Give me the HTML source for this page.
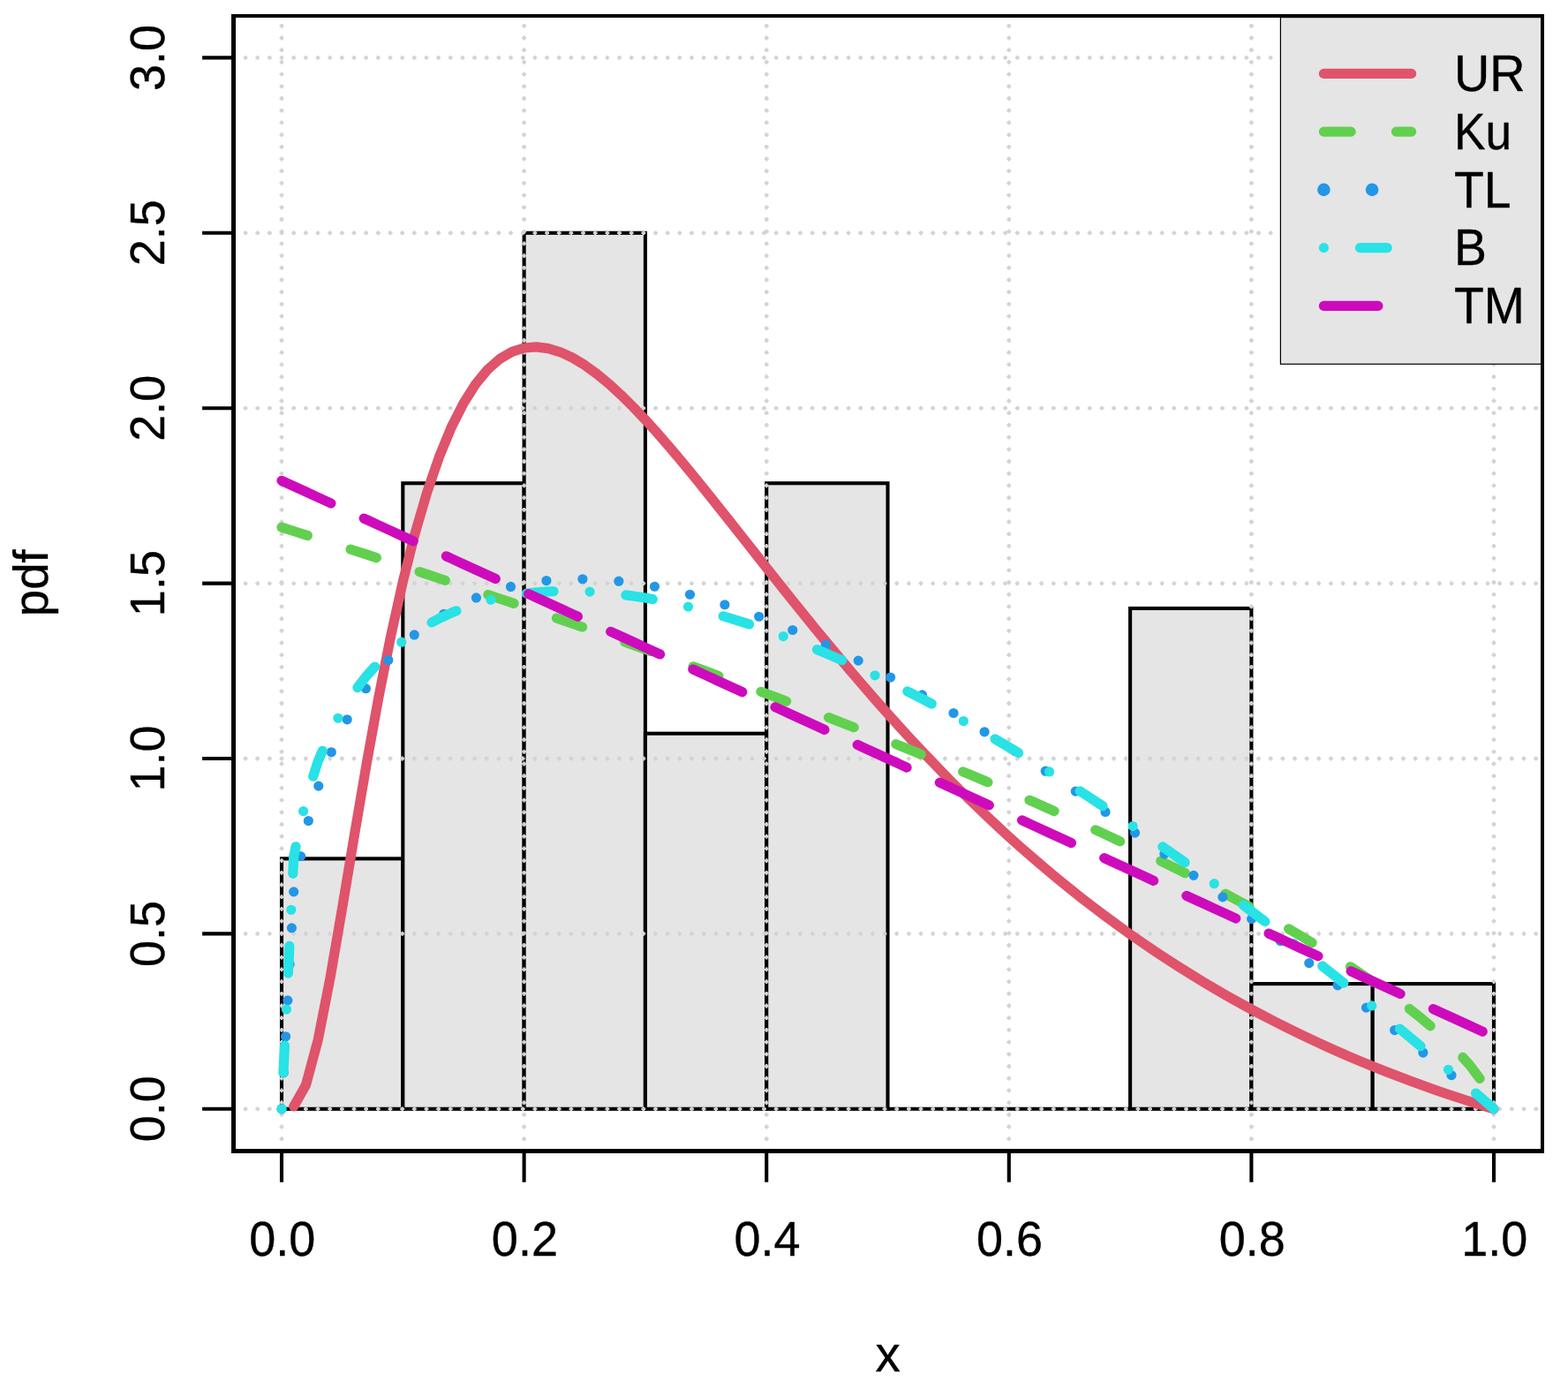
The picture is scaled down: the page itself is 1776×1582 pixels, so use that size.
<!DOCTYPE html>
<html lang="en">
<head>
<meta charset="utf-8">
<title>pdf fits</title>
<style>
html,body{margin:0;padding:0;background:#fff;}
body{width:1776px;height:1582px;overflow:hidden;}
svg{display:block;}
</style>
</head>
<body>
<svg width="1776" height="1582" viewBox="0 0 1776 1582">
<rect width="1776" height="1582" fill="#fff"/>
<g fill="#E5E5E5" stroke="#000" stroke-width="4.1" stroke-linejoin="miter">
<rect x="319" y="972.37" width="137.3" height="283.43"/>
<rect x="456.3" y="547.23" width="137.3" height="708.57"/>
<rect x="593.6" y="263.8" width="137.3" height="992"/>
<rect x="730.9" y="830.66" width="137.3" height="425.14"/>
<rect x="868.2" y="547.23" width="137.3" height="708.57"/>
<line x1="1005.5" y1="1255.8" x2="1142.8" y2="1255.8"/>
<line x1="1142.8" y1="1255.8" x2="1280.1" y2="1255.8"/>
<rect x="1280.1" y="688.94" width="137.3" height="566.86"/>
<rect x="1417.4" y="1114.09" width="137.3" height="141.71"/>
<rect x="1554.7" y="1114.09" width="137.3" height="141.71"/>
</g>
<g fill="none" stroke="#D3D3D3" stroke-linecap="butt">
<line x1="319" y1="1303.4" x2="319" y2="18" stroke-width="4.8" stroke-dasharray="2.4 11.3" stroke-dashoffset="1.2"/>
<line x1="319" y1="1303.4" x2="319" y2="18" stroke-width="2.4" stroke-dasharray="4.8 8.9" stroke-dashoffset="2.4"/>
<line x1="593.6" y1="1303.4" x2="593.6" y2="18" stroke-width="4.8" stroke-dasharray="2.4 11.3" stroke-dashoffset="1.2"/>
<line x1="593.6" y1="1303.4" x2="593.6" y2="18" stroke-width="2.4" stroke-dasharray="4.8 8.9" stroke-dashoffset="2.4"/>
<line x1="868.2" y1="1303.4" x2="868.2" y2="18" stroke-width="4.8" stroke-dasharray="2.4 11.3" stroke-dashoffset="1.2"/>
<line x1="868.2" y1="1303.4" x2="868.2" y2="18" stroke-width="2.4" stroke-dasharray="4.8 8.9" stroke-dashoffset="2.4"/>
<line x1="1142.8" y1="1303.4" x2="1142.8" y2="18" stroke-width="4.8" stroke-dasharray="2.4 11.3" stroke-dashoffset="1.2"/>
<line x1="1142.8" y1="1303.4" x2="1142.8" y2="18" stroke-width="2.4" stroke-dasharray="4.8 8.9" stroke-dashoffset="2.4"/>
<line x1="1417.4" y1="1303.4" x2="1417.4" y2="18" stroke-width="4.8" stroke-dasharray="2.4 11.3" stroke-dashoffset="1.2"/>
<line x1="1417.4" y1="1303.4" x2="1417.4" y2="18" stroke-width="2.4" stroke-dasharray="4.8 8.9" stroke-dashoffset="2.4"/>
<line x1="1692" y1="1303.4" x2="1692" y2="18" stroke-width="4.8" stroke-dasharray="2.4 11.3" stroke-dashoffset="1.2"/>
<line x1="1692" y1="1303.4" x2="1692" y2="18" stroke-width="2.4" stroke-dasharray="4.8 8.9" stroke-dashoffset="2.4"/>
<line x1="264.4" y1="1255.8" x2="1747" y2="1255.8" stroke-width="4.8" stroke-dasharray="2.4 11.26" stroke-dashoffset="1.2"/>
<line x1="264.4" y1="1255.8" x2="1747" y2="1255.8" stroke-width="2.4" stroke-dasharray="4.8 8.86" stroke-dashoffset="2.4"/>
<line x1="264.4" y1="1057.4" x2="1747" y2="1057.4" stroke-width="4.8" stroke-dasharray="2.4 11.26" stroke-dashoffset="1.2"/>
<line x1="264.4" y1="1057.4" x2="1747" y2="1057.4" stroke-width="2.4" stroke-dasharray="4.8 8.86" stroke-dashoffset="2.4"/>
<line x1="264.4" y1="859" x2="1747" y2="859" stroke-width="4.8" stroke-dasharray="2.4 11.26" stroke-dashoffset="1.2"/>
<line x1="264.4" y1="859" x2="1747" y2="859" stroke-width="2.4" stroke-dasharray="4.8 8.86" stroke-dashoffset="2.4"/>
<line x1="264.4" y1="660.6" x2="1747" y2="660.6" stroke-width="4.8" stroke-dasharray="2.4 11.26" stroke-dashoffset="1.2"/>
<line x1="264.4" y1="660.6" x2="1747" y2="660.6" stroke-width="2.4" stroke-dasharray="4.8 8.86" stroke-dashoffset="2.4"/>
<line x1="264.4" y1="462.2" x2="1747" y2="462.2" stroke-width="4.8" stroke-dasharray="2.4 11.26" stroke-dashoffset="1.2"/>
<line x1="264.4" y1="462.2" x2="1747" y2="462.2" stroke-width="2.4" stroke-dasharray="4.8 8.86" stroke-dashoffset="2.4"/>
<line x1="264.4" y1="263.8" x2="1747" y2="263.8" stroke-width="4.8" stroke-dasharray="2.4 11.26" stroke-dashoffset="1.2"/>
<line x1="264.4" y1="263.8" x2="1747" y2="263.8" stroke-width="2.4" stroke-dasharray="4.8 8.86" stroke-dashoffset="2.4"/>
<line x1="264.4" y1="65.4" x2="1747" y2="65.4" stroke-width="4.8" stroke-dasharray="2.4 11.26" stroke-dashoffset="1.2"/>
<line x1="264.4" y1="65.4" x2="1747" y2="65.4" stroke-width="2.4" stroke-dasharray="4.8 8.86" stroke-dashoffset="2.4"/>
</g>
<g fill="none" stroke-width="11.2" stroke-linecap="round" stroke-linejoin="round">
<polyline stroke="#DF536B" points="332.73,1252.89 346.46,1228.67 360.19,1177.64 373.92,1107.77 387.65,1028.17 401.38,945.82 415.11,865.38 428.84,789.75 442.57,720.59 456.3,658.67 470.03,604.25 483.76,557.22 497.49,517.24 511.22,483.89 524.95,456.65 538.68,434.99 552.41,418.39 566.14,406.34 579.87,398.36 593.6,394.01 607.33,392.88 621.06,394.58 634.79,398.77 648.52,405.15 662.25,413.42 675.98,423.35 689.71,434.7 703.44,447.26 717.17,460.86 730.9,475.33 744.63,490.54 758.36,506.34 772.09,522.62 785.82,539.29 799.55,556.25 813.28,573.42 827.01,590.73 840.74,608.12 854.47,625.53 868.2,642.92 881.93,660.24 895.66,677.45 909.39,694.52 923.12,711.43 936.85,728.15 950.58,744.66 964.31,760.94 978.04,776.97 991.77,792.75 1005.5,808.26 1019.23,823.5 1032.96,838.45 1046.69,853.11 1060.42,867.49 1074.15,881.57 1087.88,895.35 1101.61,908.83 1115.34,922.02 1129.07,934.92 1142.8,947.51 1156.53,959.82 1170.26,971.83 1183.99,983.56 1197.72,995.01 1211.45,1006.17 1225.18,1017.06 1238.91,1027.67 1252.64,1038.02 1266.37,1048.1 1280.1,1057.93 1293.83,1067.5 1307.56,1076.82 1321.29,1085.9 1335.02,1094.74 1348.75,1103.34 1362.48,1111.71 1376.21,1119.86 1389.94,1127.79 1403.67,1135.5 1417.4,1143.01 1431.13,1150.3 1444.86,1157.4 1458.59,1164.3 1472.32,1171.01 1486.05,1177.53 1499.78,1183.87 1513.51,1190.03 1527.24,1196.02 1540.97,1201.84 1554.7,1207.49 1568.43,1212.98 1582.16,1218.32 1595.89,1223.5 1609.62,1228.53 1623.35,1233.42 1637.08,1238.17 1650.81,1242.77 1664.54,1247.25 1678.27,1251.59 1692,1255.8"/>
<polyline stroke="#61D04F" stroke-dasharray="30.75 51.25" points="319,597.11 332.73,601.47 346.46,605.84 360.19,610.22 373.92,614.62 387.65,619.04 401.38,623.47 415.11,627.92 428.84,632.38 442.57,636.86 456.3,641.36 470.03,645.87 483.76,650.41 497.49,654.95 511.22,659.52 524.95,664.11 538.68,668.71 552.41,673.33 566.14,677.97 579.87,682.63 593.6,687.31 607.33,692.01 621.06,696.74 634.79,701.48 648.52,706.24 662.25,711.02 675.98,715.83 689.71,720.65 703.44,725.5 717.17,730.38 730.9,735.27 744.63,740.19 758.36,745.14 772.09,750.1 785.82,755.1 799.55,760.12 813.28,765.16 827.01,770.24 840.74,775.34 854.47,780.47 868.2,785.62 881.93,790.81 895.66,796.03 909.39,801.28 923.12,806.55 936.85,811.87 950.58,817.21 964.31,822.59 978.04,828 991.77,833.45 1005.5,838.93 1019.23,844.45 1032.96,850.01 1046.69,855.61 1060.42,861.25 1074.15,866.93 1087.88,872.66 1101.61,878.43 1115.34,884.24 1129.07,890.11 1142.8,896.02 1156.53,901.98 1170.26,907.99 1183.99,914.06 1197.72,920.19 1211.45,926.37 1225.18,932.61 1238.91,938.92 1252.64,945.29 1266.37,951.73 1280.1,958.24 1293.83,964.82 1307.56,971.48 1321.29,978.23 1335.02,985.05 1348.75,991.97 1362.48,998.99 1376.21,1006.1 1389.94,1013.32 1403.67,1020.65 1417.4,1028.1 1431.13,1035.68 1444.86,1043.4 1458.59,1051.26 1472.32,1059.28 1486.05,1067.48 1499.78,1075.86 1513.51,1084.45 1527.24,1093.27 1540.97,1102.34 1554.7,1111.69 1568.43,1121.38 1582.16,1131.43 1595.89,1141.92 1609.62,1152.94 1623.35,1164.6 1637.08,1177.09 1650.81,1190.7 1664.54,1205.99 1678.27,1224.27 1692,1255.8"/>
<polyline stroke="#2297E6" stroke-dasharray="0 41.049" points="319,1255.8 332.73,1009.51 346.46,939.57 360.19,891.65 373.92,854.77 387.65,824.86 401.38,799.86 415.11,778.58 428.84,760.24 442.57,744.32 456.3,730.43 470.03,718.29 483.76,707.65 497.49,698.36 511.22,690.26 524.95,683.24 538.68,677.19 552.41,672.03 566.14,667.68 579.87,664.09 593.6,661.2 607.33,658.96 621.06,657.33 634.79,656.27 648.52,655.75 662.25,655.73 675.98,656.19 689.71,657.1 703.44,658.44 717.17,660.18 730.9,662.31 744.63,664.82 758.36,667.67 772.09,670.86 785.82,674.37 799.55,678.2 813.28,682.31 827.01,686.71 840.74,691.39 854.47,696.32 868.2,701.51 881.93,706.94 895.66,712.6 909.39,718.49 923.12,724.59 936.85,730.9 950.58,737.42 964.31,744.13 978.04,751.02 991.77,758.1 1005.5,765.35 1019.23,772.77 1032.96,780.35 1046.69,788.1 1060.42,795.99 1074.15,804.03 1087.88,812.21 1101.61,820.53 1115.34,828.98 1129.07,837.56 1142.8,846.27 1156.53,855.09 1170.26,864.03 1183.99,873.08 1197.72,882.23 1211.45,891.49 1225.18,900.85 1238.91,910.31 1252.64,919.86 1266.37,929.49 1280.1,939.22 1293.83,949.02 1307.56,958.9 1321.29,968.86 1335.02,978.89 1348.75,988.99 1362.48,999.16 1376.21,1009.39 1389.94,1019.68 1403.67,1030.03 1417.4,1040.43 1431.13,1050.89 1444.86,1061.39 1458.59,1071.94 1472.32,1082.53 1486.05,1093.17 1499.78,1103.84 1513.51,1114.55 1527.24,1125.29 1540.97,1136.06 1554.7,1146.86 1568.43,1157.68 1582.16,1168.53 1595.89,1179.39 1609.62,1190.27 1623.35,1201.17 1637.08,1212.08 1650.81,1223 1664.54,1233.93 1678.27,1244.86 1692,1255.8"/>
<polyline stroke="#28E2E5" stroke-dasharray="0 41.049 30.787 41.049" points="319,1255.8 332.73,969.67 346.46,904.9 360.19,862.13 373.92,829.96 387.65,804.32 401.38,783.18 415.11,765.4 428.84,750.23 442.57,737.19 456.3,725.92 470.03,716.15 483.76,707.67 497.49,700.33 511.22,693.99 524.95,688.56 538.68,683.94 552.41,680.07 566.14,676.87 579.87,674.29 593.6,672.3 607.33,670.84 621.06,669.88 634.79,669.39 648.52,669.35 662.25,669.72 675.98,670.48 689.71,671.62 703.44,673.11 717.17,674.94 730.9,677.09 744.63,679.54 758.36,682.3 772.09,685.33 785.82,688.64 799.55,692.21 813.28,696.03 827.01,700.09 840.74,704.38 854.47,708.9 868.2,713.65 881.93,718.6 895.66,723.76 909.39,729.11 923.12,734.67 936.85,740.4 950.58,746.33 964.31,752.43 978.04,758.7 991.77,765.15 1005.5,771.75 1019.23,778.52 1032.96,785.45 1046.69,792.53 1060.42,799.76 1074.15,807.14 1087.88,814.66 1101.61,822.32 1115.34,830.12 1129.07,838.05 1142.8,846.12 1156.53,854.32 1170.26,862.64 1183.99,871.09 1197.72,879.66 1211.45,888.35 1225.18,897.16 1238.91,906.09 1252.64,915.13 1266.37,924.29 1280.1,933.55 1293.83,942.92 1307.56,952.4 1321.29,961.99 1335.02,971.68 1348.75,981.47 1362.48,991.37 1376.21,1001.36 1389.94,1011.45 1403.67,1021.64 1417.4,1031.92 1431.13,1042.29 1444.86,1052.76 1458.59,1063.32 1472.32,1073.97 1486.05,1084.71 1499.78,1095.54 1513.51,1106.46 1527.24,1117.46 1540.97,1128.54 1554.7,1139.71 1568.43,1150.96 1582.16,1162.29 1595.89,1173.71 1609.62,1185.2 1623.35,1196.78 1637.08,1208.43 1650.81,1220.16 1664.54,1231.96 1678.27,1243.84 1692,1255.8"/>
<polyline stroke="#CD0BBC" stroke-dasharray="61.5 41" points="319,544.34 332.73,550.63 346.46,556.93 360.19,563.23 373.92,569.53 387.65,575.82 401.38,582.12 415.11,588.42 428.84,594.72 442.57,601.01 456.3,607.31 470.03,613.61 483.76,619.9 497.49,626.2 511.22,632.5 524.95,638.8 538.68,645.09 552.41,651.39 566.14,657.69 579.87,663.98 593.6,670.28 607.33,676.58 621.06,682.88 634.79,689.17 648.52,695.47 662.25,701.77 675.98,708.07 689.71,714.36 703.44,720.66 717.17,726.96 730.9,733.25 744.63,739.55 758.36,745.85 772.09,752.15 785.82,758.44 799.55,764.74 813.28,771.04 827.01,777.33 840.74,783.63 854.47,789.93 868.2,796.23 881.93,802.52 895.66,808.82 909.39,815.12 923.12,821.42 936.85,827.71 950.58,834.01 964.31,840.31 978.04,846.6 991.77,852.9 1005.5,859.2 1019.23,865.5 1032.96,871.79 1046.69,878.09 1060.42,884.39 1074.15,890.68 1087.88,896.98 1101.61,903.28 1115.34,909.58 1129.07,915.87 1142.8,922.17 1156.53,928.47 1170.26,934.76 1183.99,941.06 1197.72,947.36 1211.45,953.66 1225.18,959.95 1238.91,966.25 1252.64,972.55 1266.37,978.85 1280.1,985.14 1293.83,991.44 1307.56,997.74 1321.29,1004.03 1335.02,1010.33 1348.75,1016.63 1362.48,1022.93 1376.21,1029.22 1389.94,1035.52 1403.67,1041.82 1417.4,1048.11 1431.13,1054.41 1444.86,1060.71 1458.59,1067.01 1472.32,1073.3 1486.05,1079.6 1499.78,1085.9 1513.51,1092.2 1527.24,1098.49 1540.97,1104.79 1554.7,1111.09 1568.43,1117.38 1582.16,1123.68 1595.89,1129.98 1609.62,1136.28 1623.35,1142.57 1637.08,1148.87 1650.81,1155.17 1664.54,1161.46 1678.27,1167.76 1692,1174.06"/>
</g>
<rect x="1450.4" y="19.6" width="296.1" height="392.7" fill="#E5E5E5" stroke="#000" stroke-width="1.2"/>
<g fill="none" stroke-width="11.2" stroke-linecap="round">
<line x1="1499.4" x2="1598.6" y1="83.4" y2="83.4" stroke="#DF536B"/>
<line x1="1499.4" x2="1598.6" y1="149.15" y2="149.15" stroke="#61D04F" stroke-dasharray="30.75 51.25"/>
<line x1="1499.4" x2="1598.6" y1="214.9" y2="214.9" stroke="#2297E6" stroke-width="14.6" stroke-dasharray="0 54.7"/>
<line x1="1499.4" x2="1598.6" y1="280.65" y2="280.65" stroke="#28E2E5" stroke-dasharray="0 41.049 30.787 41.049"/>
<line x1="1499.4" x2="1598.6" y1="346.4" y2="346.4" stroke="#CD0BBC" stroke-dasharray="61.5 41"/>
</g>
<g fill="none" stroke="#000" stroke-linecap="butt">
<g fill="#000" stroke="none"><rect x="262" y="16" width="1487" height="4"/><rect x="262" y="1301" width="1487" height="5"/><rect x="262" y="16" width="5" height="1290"/><rect x="1745" y="16" width="4" height="1290"/></g>
<line x1="319" x2="319" y1="1303.4" y2="1338.7" stroke-width="4.1"/>
<line x1="593.6" x2="593.6" y1="1303.4" y2="1338.7" stroke-width="4.1"/>
<line x1="868.2" x2="868.2" y1="1303.4" y2="1338.7" stroke-width="4.1"/>
<line x1="1142.8" x2="1142.8" y1="1303.4" y2="1338.7" stroke-width="4.1"/>
<line x1="1417.4" x2="1417.4" y1="1303.4" y2="1338.7" stroke-width="4.1"/>
<line x1="1692" x2="1692" y1="1303.4" y2="1338.7" stroke-width="4.1"/>
<line x1="264.4" x2="229.1" y1="1255.8" y2="1255.8" stroke-width="4.1"/>
<line x1="264.4" x2="229.1" y1="1057.4" y2="1057.4" stroke-width="4.1"/>
<line x1="264.4" x2="229.1" y1="859" y2="859" stroke-width="4.1"/>
<line x1="264.4" x2="229.1" y1="660.6" y2="660.6" stroke-width="4.1"/>
<line x1="264.4" x2="229.1" y1="462.2" y2="462.2" stroke-width="4.1"/>
<line x1="264.4" x2="229.1" y1="263.8" y2="263.8" stroke-width="4.1"/>
<line x1="264.4" x2="229.1" y1="65.4" y2="65.4" stroke-width="4.1"/>
</g>
<g font-family="'Liberation Sans', Arial, Helvetica, sans-serif" fill="#000" stroke="#000" stroke-width="0.35" stroke-linejoin="round">
<text transform="translate(319.8 1421.6) scale(0.9854 1)" font-size="54.8px" text-anchor="middle">0.0</text>
<text transform="translate(594.4 1421.6) scale(0.9854 1)" font-size="54.8px" text-anchor="middle">0.2</text>
<text transform="translate(869 1421.6) scale(0.9854 1)" font-size="54.8px" text-anchor="middle">0.4</text>
<text transform="translate(1143.6 1421.6) scale(0.9854 1)" font-size="54.8px" text-anchor="middle">0.6</text>
<text transform="translate(1418.2 1421.6) scale(0.9854 1)" font-size="54.8px" text-anchor="middle">0.8</text>
<text transform="translate(1692.8 1421.6) scale(0.9854 1)" font-size="54.8px" text-anchor="middle">1.0</text>
<text transform="translate(185.8 1255.8) rotate(-90) scale(0.9818 1)" font-size="55px" text-anchor="middle">0.0</text>
<text transform="translate(185.8 1057.4) rotate(-90) scale(0.9818 1)" font-size="55px" text-anchor="middle">0.5</text>
<text transform="translate(185.8 859) rotate(-90) scale(0.9818 1)" font-size="55px" text-anchor="middle">1.0</text>
<text transform="translate(185.8 660.6) rotate(-90) scale(0.9818 1)" font-size="55px" text-anchor="middle">1.5</text>
<text transform="translate(185.8 462.2) rotate(-90) scale(0.9818 1)" font-size="55px" text-anchor="middle">2.0</text>
<text transform="translate(185.8 263.8) rotate(-90) scale(0.9818 1)" font-size="55px" text-anchor="middle">2.5</text>
<text transform="translate(185.8 65.4) rotate(-90) scale(0.9818 1)" font-size="55px" text-anchor="middle">3.0</text>
<text transform="translate(1005.7 1553)" font-size="56.5px" text-anchor="middle">x</text>
<text transform="translate(54.2 660.25) rotate(-90) scale(0.9874 1)" font-size="55.5px" text-anchor="middle">pdf</text>
<text transform="translate(1646.9 103.3) scale(0.9789 1)" font-size="57px">UR</text>
<text transform="translate(1646.9 168.7) scale(0.9351 1)" font-size="57px">Ku</text>
<text transform="translate(1646.9 234.7) scale(0.9719 1)" font-size="57px">TL</text>
<text transform="translate(1646.9 300.4) scale(0.9719 1)" font-size="57px">B</text>
<text transform="translate(1646.9 365.7) scale(0.9719 1)" font-size="57px">TM</text>
</g>
</svg>
</body>
</html>
